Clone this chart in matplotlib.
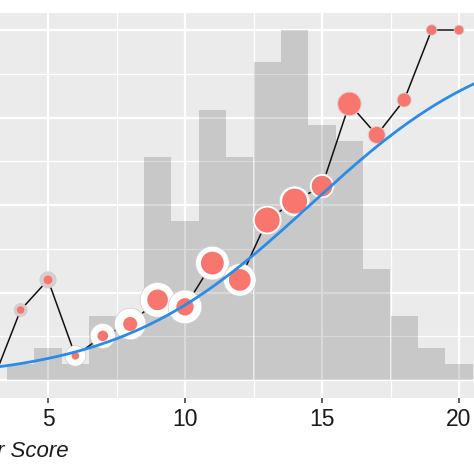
import numpy as np
import matplotlib
matplotlib.use("Agg")
import matplotlib.pyplot as plt
from matplotlib.ticker import MultipleLocator

plt.rcParams['font.family'] = ['Liberation Sans', 'DejaVu Sans']

# histogram of scores (counts per integer bin)
hist_bins = [3, 4, 5, 6, 7, 8, 9, 10, 11, 12, 13, 14, 15, 16, 17, 18, 19, 20]
hist_counts = [0, 1, 2, 1, 4, 4, 14, 10, 17, 14, 20, 22, 16, 15, 7, 4, 2, 1]

# observed proportion per score, with group sizes
scores = [3, 4, 5, 6, 7, 8, 9, 10, 11, 12, 13, 14, 15, 16, 17, 18, 19, 20]
prop = [0.0, 0.20, 0.286, 0.069, 0.126, 0.16, 0.229, 0.209, 0.334, 0.286,
        0.457, 0.511, 0.554, 0.789, 0.70, 0.80, 1.0, 1.0]
n_all = [12, 18, 28, 45, 66, 105, 128, 120, 120, 112, 91, 98, 66, 60, 32, 21, 12, 10]
n_pos = [4, 6, 8, 6, 12, 21, 45, 32, 55, 50, 66, 66, 45, 55, 28, 18, 10, 8]

# logistic fit
fit_intercept = -4.15
fit_slope = 0.285

x_lo, x_hi = 0.5, 21.5

fig = plt.figure(figsize=(4.74, 4.74), dpi=100)
ax = fig.add_axes([-75.3 / 474, 76.5 / 474, 575.4 / 474, 385 / 474])
ax.set_facecolor('#EBEBEB')
for s in ax.spines.values():
    s.set_visible(False)

ax.set_xlim(x_lo, x_hi)
ax.set_ylim(-0.05, 1.05)
ax.xaxis.set_major_locator(MultipleLocator(5))
ax.xaxis.set_minor_locator(MultipleLocator(2.5))
ax.yaxis.set_major_locator(MultipleLocator(0.25))
ax.yaxis.set_minor_locator(MultipleLocator(0.125))
ax.grid(which='major', color='white', lw=1.6)
ax.grid(which='minor', color='white', lw=0.9)
ax.set_axisbelow(True)

# histogram scaled to the 0-1 range
heights = np.array(hist_counts) / max(hist_counts)
ax.bar(hist_bins, heights, width=1.0, color='black', alpha=0.15, lw=0, zorder=1)

# connecting line
ax.plot(scores, prop, color='#111111', lw=1.1, zorder=2)

# outer (all) and inner (positive) circles, area ~ count
size_k = 4.9
n_all_a = np.array(n_all)
faded = n_all_a < 30
face = np.where(faded[:, None], np.array(matplotlib.colors.to_rgba('#D6CECE')),
                np.array(matplotlib.colors.to_rgba('white')))
ax.scatter(scores, prop, s=size_k * n_all_a, facecolors=face,
           edgecolors='#D2CCCC', linewidths=0.5, zorder=3)
ax.scatter(scores, prop, s=size_k * np.array(n_pos), color='#F8766D',
           linewidths=0, zorder=4)

# fitted curve
xs = np.linspace(x_lo, x_hi, 300)
ys = 1 / (1 + np.exp(-(fit_intercept + fit_slope * xs)))
ax.plot(xs, ys, color='#2B8CE8', lw=2.0, zorder=5)

ax.tick_params(axis='x', which='major', length=3.5, width=1.1, color='#333333',
               labelsize=16.5, labelcolor='#1A1A1A', pad=4)
ax.tick_params(axis='x', which='minor', length=0)
ax.tick_params(axis='y', which='both', length=0, labelleft=False)

fig.text(69 / 474, 17 / 474, 'r Score', ha='right', va='baseline',
         fontsize=16, style='italic', color='#1A1A1A')

fig.savefig('out.png', dpi=100)
